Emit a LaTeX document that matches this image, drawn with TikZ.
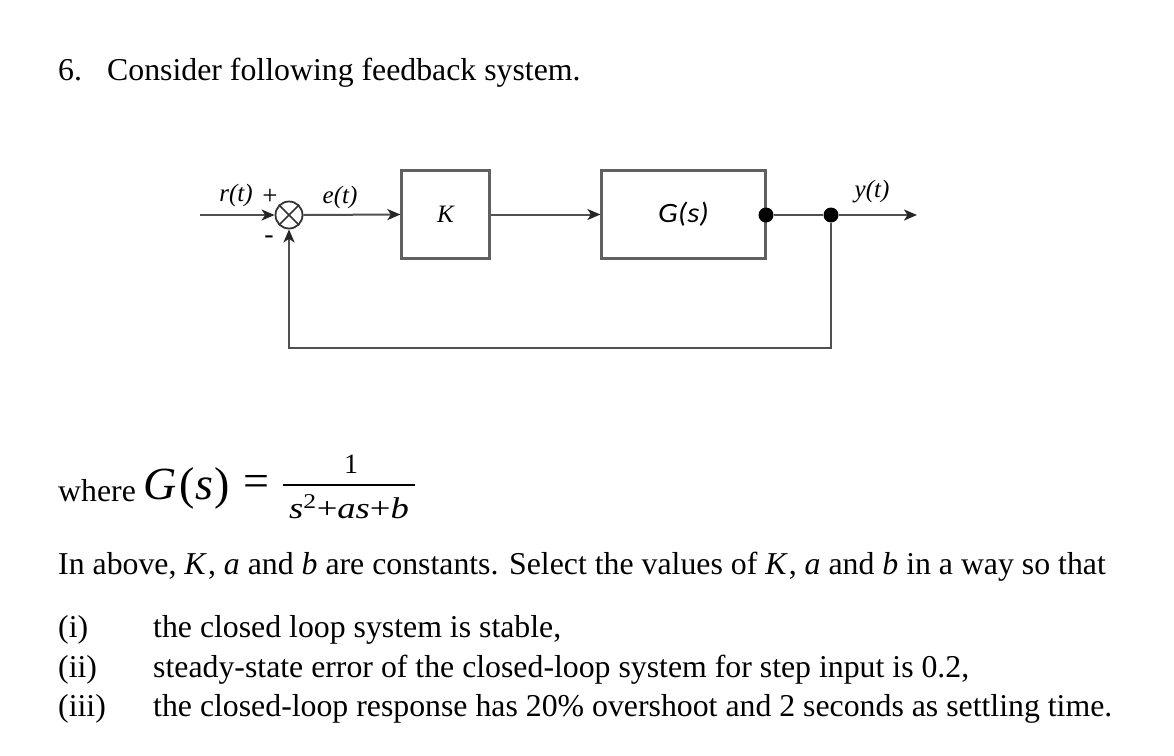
\documentclass[tikz,border=0pt]{standalone}
\usepackage{fontspec}
\setmainfont{Liberation Serif}
\newfontfamily\calfont{Carlito}
\usetikzlibrary{arrows.meta}
\definecolor{linegray}{HTML}{505050}
\definecolor{boxgray}{HTML}{606060}
\begin{document}
\begin{tikzpicture}[x=1pt,y=-1pt,
  wire/.style={draw=linegray, line width=2pt},
  arr/.style={wire, -{Stealth[length=13pt,width=11pt,inset=3.5pt,color=black!85]}},
  block/.style={draw=boxgray, line width=2.2pt, inner sep=0pt, minimum height=88pt},
  sumnode/.style={circle, draw=black!80, line width=1.8pt, minimum size=27pt, inner sep=0pt},
  dotnode/.style={circle, fill=black, minimum size=15pt, inner sep=0pt},
  lbl/.style={inner sep=0pt, font=\fontsize{25}{28}\selectfont\itshape},
  body/.style={inner sep=0pt, anchor=base west, font=\fontsize{31.8}{38}\selectfont}
]
\useasboundingbox (0,0) rectangle (1174,755);

% heading
\node[body] (num6) at (58,80) {6.};
\node[body] (head) at (107,80) {Consider following feedback system.};

% block diagram
\node[sumnode] (sum) at (289,215) {};
\draw[black!80, line width=1.6pt] (sum.north west) -- (sum.south east);
\draw[black!80, line width=1.6pt] (sum.north east) -- (sum.south west);
\node[block, minimum width=88pt] (K) at (445.5,214.5) {\fontsize{25}{28}\selectfont\itshape K};
\node[block, minimum width=164pt] (G) at (683.5,214.5) {\scalebox{1.12}[1]{\fontsize{28}{32}\selectfont\calfont\itshape G(s)}};
\node[dotnode] (d1) at (766,215) {};
\node[dotnode] (d2) at (831,215) {};
\coordinate (in) at (200,215);
\coordinate (out) at (917,215);
\coordinate (fbR) at (831,348);

\draw[arr] (in) -- (sum.west);
\draw[arr] (sum.east) -- (K.west);
\draw[arr] (K.east) -- (G.west);
\draw[wire] (d1) -- (d2);
\draw[arr] (d2) -- (out);
\draw[arr] (d2) -- (fbR) -| (sum.south);

\node[lbl] (rlab) at (236,195) {r(t)};
\node[lbl, font=\fontsize{27}{28}\selectfont] (plus) at (270,197) {+};
\node[lbl, font=\fontsize{28}{28}\selectfont] (minus) at (269,240) {-};
\node[lbl] (elab) at (340,197) {e(t)};
\node[lbl] (ylab) at (872,192) {y(t)};

% transfer function
\node[body] (where) at (58,501) {where};
\node[inner sep=0pt, anchor=base west, font=\fontsize{46}{50}\selectfont] (Gs) at (143,499) {\itshape G\kern3pt\upshape(\kern1pt\itshape s\upshape\kern1pt)};
\node[inner sep=0pt, anchor=center, font=\fontsize{46}{50}\selectfont] (eq) at (256,486) {=};
\draw[black, line width=2.2pt] (283,485) coordinate (barL) -- (415,485) coordinate (barR);
\node[inner sep=0pt, anchor=base, font=\fontsize{28}{30}\selectfont] (numr) at (351,473) {1};
\node[inner sep=0pt, anchor=base, font=\fontsize{30}{34}\selectfont] (den) at (349,518) {\scalebox{1.22}[1]{\itshape s\upshape\textsuperscript{2}+\itshape as\upshape+\itshape b}};

% text
\node[body] (line1) at (58,574) {In above, \textit{K}\kern1pt, \textit{a} and \textit{b} are constants. Select the values of \textit{K}\kern1pt, \textit{a} and \textit{b} in a way so that};
\node[body] (i1) at (58,637) {(i)};
\node[body] (t1) at (153,637) {the closed loop system is stable,};
\node[body] (i2) at (58,677) {(ii)};
\node[body] (t2) at (153,677) {steady-state error of the closed-loop system for step input is 0.2,};
\node[body] (i3) at (58,716) {(iii)};
\node[body] (t3) at (153,716) {the closed-loop response has 20\% overshoot and 2 seconds as settling time.};
\end{tikzpicture}
\end{document}
